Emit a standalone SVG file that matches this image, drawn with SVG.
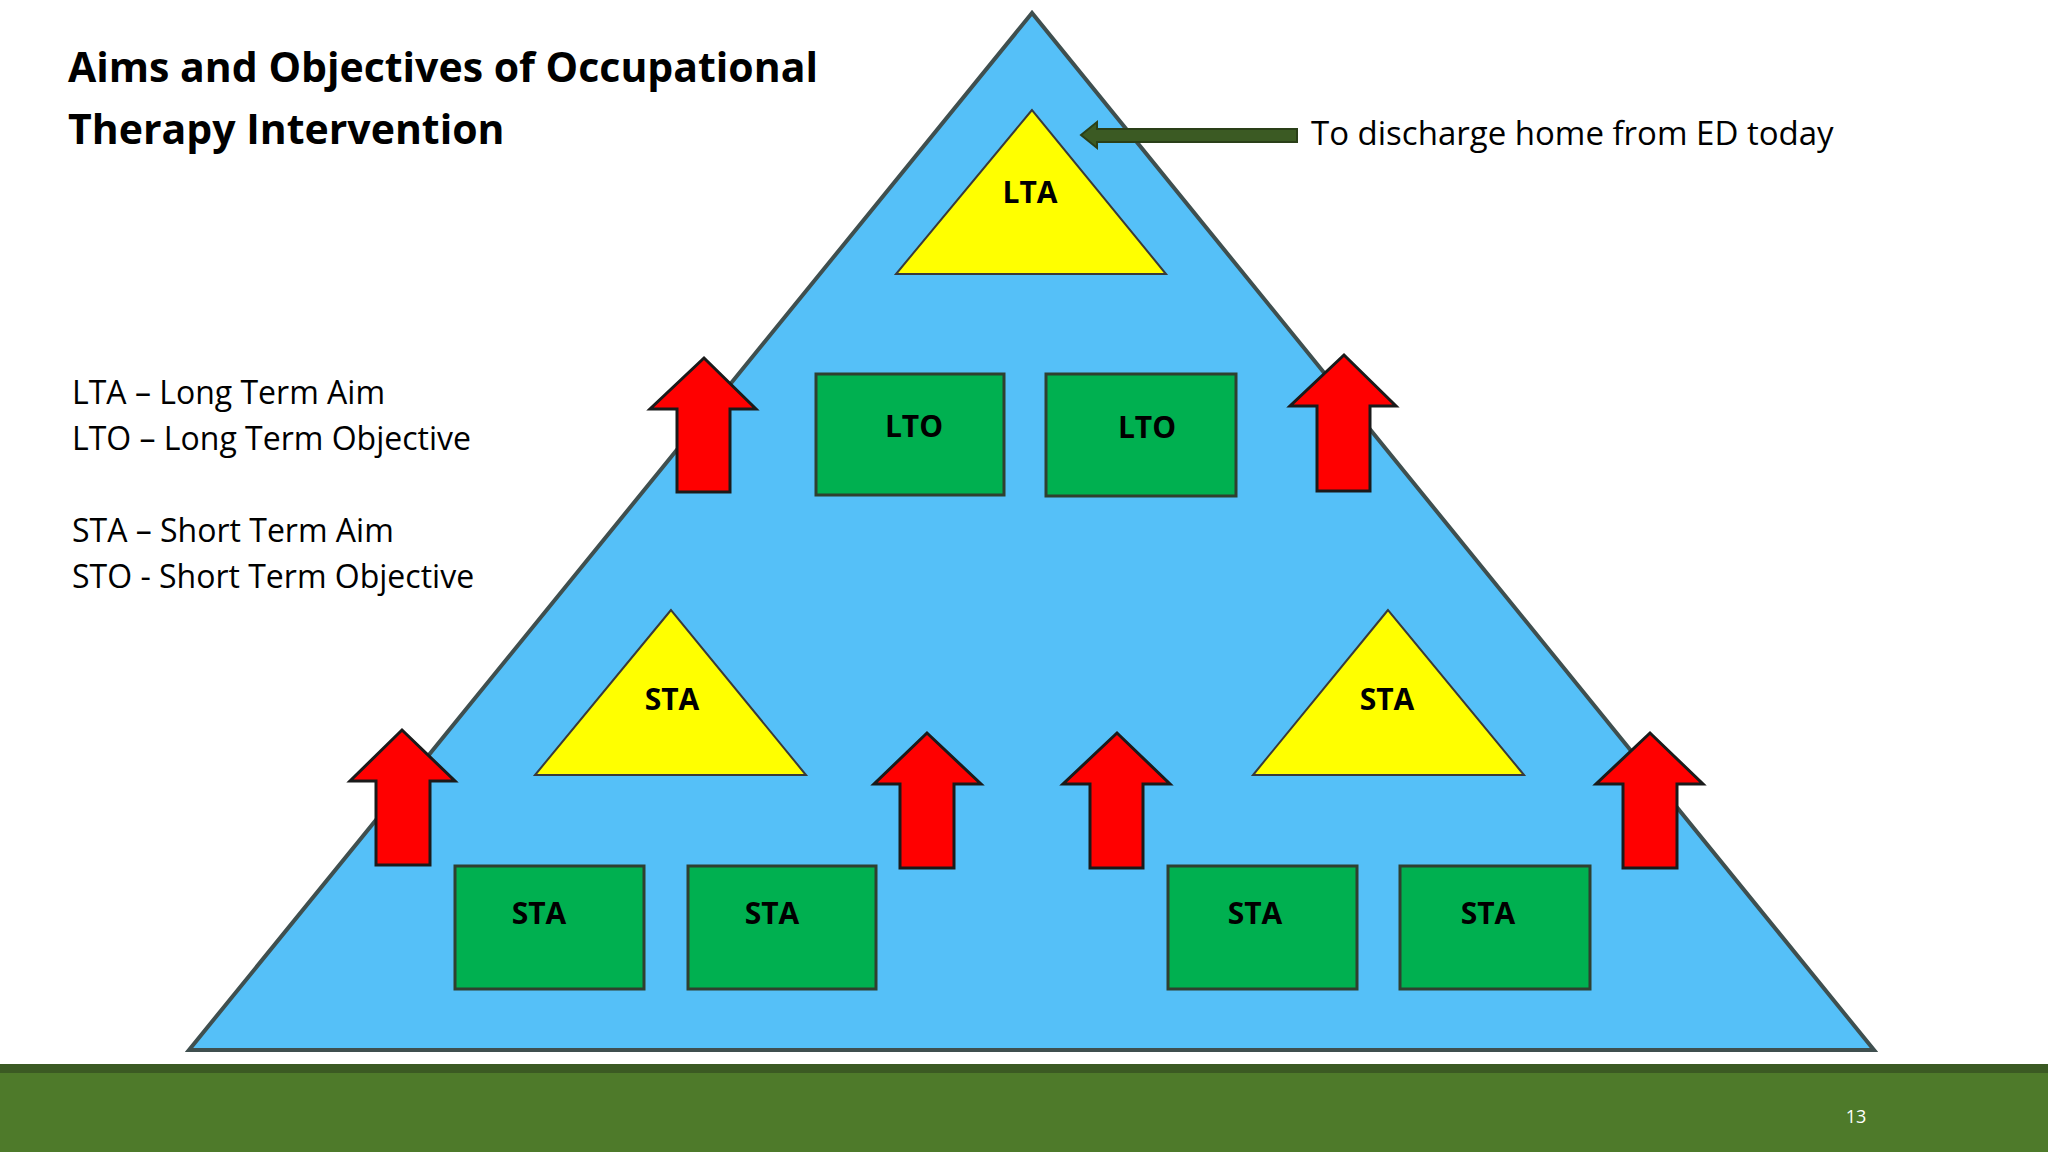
<svg xmlns="http://www.w3.org/2000/svg" width="2048" height="1152" viewBox="0 0 2048 1152">
<style>
.t{font-family:"Open Sans","Liberation Sans",sans-serif;fill:#000}
.b{font-weight:bold;font-size:30px;text-anchor:middle}
.tri{fill:#ffff00;stroke:#3a3a3a;stroke-width:2}
.box{fill:#00b050;stroke:#2f3f2f;stroke-width:3}
.up{fill:#ff0000;stroke:#1a1a1a;stroke-width:3}
</style>
<rect width="2048" height="1152" fill="#fff"/>
<rect x="0" y="1064" width="2048" height="88" fill="#4e7a2a"/>
<rect x="0" y="1064" width="2048" height="9" fill="#3b5a23"/>
<text class="t" x="1856" y="1123" font-size="18" fill="#fff" style="fill:#fff" text-anchor="middle">13</text>
<g id="pyramid"><polygon points="1032,13 189,1050 1874,1050" fill="#55c0f8" stroke="#3f4f4f" stroke-width="4"/></g>
<text class="t" font-weight="bold" font-size="41" x="68" y="82">Aims and Objectives of Occupational</text>
<text class="t" font-weight="bold" font-size="41" x="68" y="144">Therapy Intervention</text>
<g class="t" font-size="32">
<text x="72" y="404">LTA – Long Term Aim</text>
<text x="72" y="450">LTO – Long Term Objective</text>
<text x="72" y="542">STA – Short Term Aim</text>
<text x="72" y="588">STO - Short Term Objective</text>
</g>
<text class="t" font-size="33" x="1311" y="145">To discharge home from ED today</text>
<g id="lta"><polygon class="tri" points="1032,110 896,274 1166,274"/><text class="t b" x="1030" y="203">LTA</text></g>
<g id="lto1"><rect class="box" x="816" y="374" width="188" height="121"/><text class="t b" x="914" y="437">LTO</text></g>
<g id="lto2"><rect class="box" x="1046" y="374" width="190" height="122"/><text class="t b" x="1147" y="438">LTO</text></g>
<g id="sta1"><polygon class="tri" points="671,610 535,775 806,775"/><text class="t b" x="672" y="710">STA</text></g>
<g id="sta2"><polygon class="tri" points="1388,610 1253,775 1524,775"/><text class="t b" x="1387" y="710">STA</text></g>
<g id="sto1"><rect class="box" x="455" y="866" width="189" height="123"/><text class="t b" x="539" y="924">STA</text></g>
<g id="sto2"><rect class="box" x="688" y="866" width="188" height="123"/><text class="t b" x="772" y="924">STA</text></g>
<g id="sto3"><rect class="box" x="1168" y="866" width="189" height="123"/><text class="t b" x="1255" y="924">STA</text></g>
<g id="sto4"><rect class="box" x="1400" y="866" width="190" height="123"/><text class="t b" x="1488" y="924">STA</text></g>
<g id="connectors">
<polygon points="1081,135 1097,122 1097,129 1297,129 1297,142 1097,142 1097,148" fill="#3b5a23" stroke="#2a3f18" stroke-width="2"/>
<polygon class="up" points="704,358 756,409 730,409 730,492 677,492 677,409 650,409"/>
<polygon class="up" points="1344,355 1396,406 1370,406 1370,491 1317,491 1317,406 1290,406"/>
<polygon class="up" points="402,730 455,781 430,781 430,865 376,865 376,781 350,781"/>
<polygon class="up" points="927,733 981,784 954,784 954,868 900,868 900,784 874,784"/>
<polygon class="up" points="1117,733 1170,784 1143,784 1143,868 1090,868 1090,784 1063,784"/>
<polygon class="up" points="1650,733 1703,784 1677,784 1677,868 1623,868 1623,784 1596,784"/>
</g>
</svg>
